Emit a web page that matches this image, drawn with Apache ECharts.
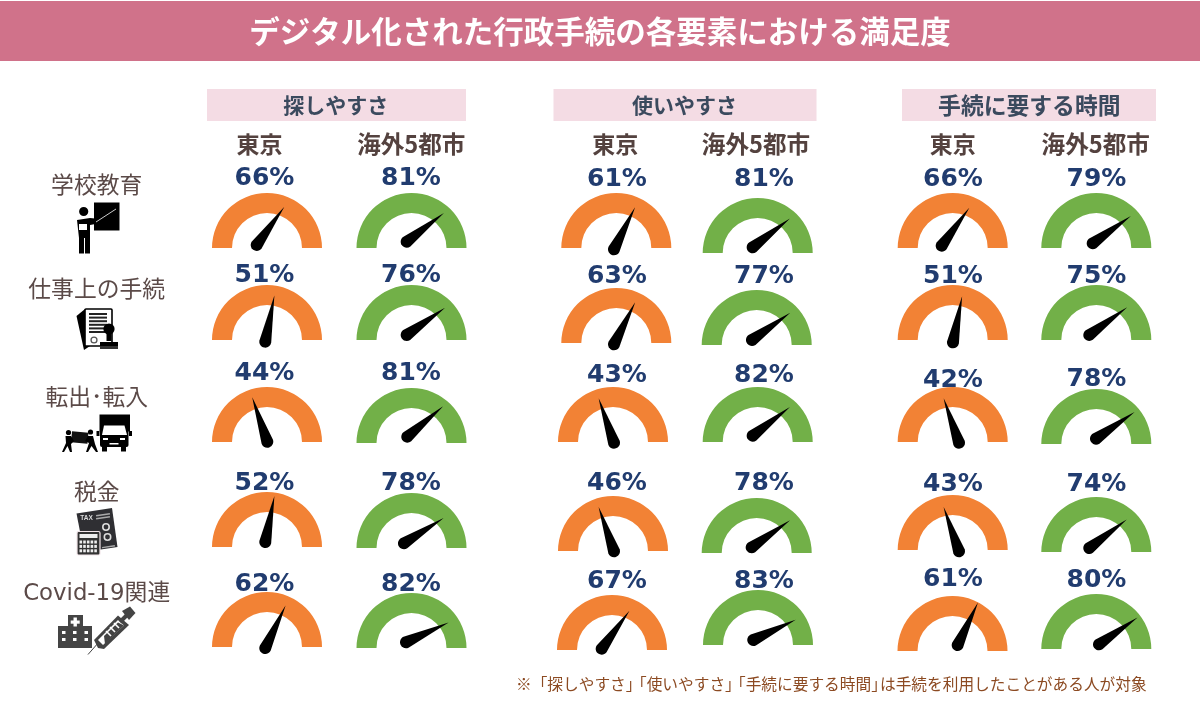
<!DOCTYPE html>
<html>
<head>
<meta charset="utf-8">
<title>デジタル化された行政手続の各要素における満足度</title>
<style>
  html, body { margin: 0; padding: 0; background: #fff; }
  #main { width: 1200px; height: 706px; }
</style>
<script src="https://cdn.jsdelivr.net/npm/echarts@6/dist/echarts.min.js"></script>
</head>
<body>
<div id="main"></div>
<script>
// 表示されているパーセント
var categories = ['学校教育', '仕事上の手続', '転出･転入', '税金', 'Covid-19関連'];
var measures = ['探しやすさ', '使いやすさ', '手続に要する時間'];
var cities = ['東京', '海外5都市'];

var findTokyo = [66, 51, 44, 52, 62];
var findOverseas = [81, 76, 81, 78, 82];
var useTokyo = [61, 63, 43, 46, 67];
var useOverseas = [81, 77, 82, 78, 83];
var timeTokyo = [66, 51, 42, 43, 61];
var timeOverseas = [79, 75, 78, 74, 80];

// 針の指している位置(目盛0-100で絵から読んだ値)
var findTokyoNeedle = [69.9, 56.2, 39.6, 56.2, 64.2];
var findOverseasNeedle = [79.1, 80.4, 77.6, 82, 86.2];
var useTokyoNeedle = [64.8, 64.9, 39.4, 39.4, 70.1];
var useOverseasNeedle = [79.1, 80.3, 79.1, 80.4, 85.8];
var timeTokyoNeedle = [70, 56.2, 39.4, 39.4, 64.2];
var timeOverseasNeedle = [80.2, 79.9, 80.7, 79.3, 80.6];

var shownValues = [findTokyo, findOverseas, useTokyo, useOverseas, timeTokyo, timeOverseas];
var needleValues = [findTokyoNeedle, findOverseasNeedle, useTokyoNeedle, useOverseasNeedle, timeTokyoNeedle, timeOverseasNeedle];

// レイアウト(メーターごとの中心、針の根元、ラベル)
var arcX = [
  [267, 267, 267, 267, 267],
  [411.5, 411.5, 411.5, 411.5, 411.5],
  [616.3, 616.3, 613, 613, 612],
  [757.7, 756.7, 757.7, 756.7, 758],
  [952.7, 952.7, 952.7, 952.7, 952.5],
  [1096.3, 1096.3, 1096.3, 1096.3, 1096.3]
];
var arcY = [
  [248, 340, 442, 547, 647],
  [248, 340, 443, 548, 648],
  [248, 343, 442, 551, 650],
  [253, 345, 442, 553, 645],
  [248, 340, 442, 550, 651],
  [248, 340, 444, 552, 649]
];
var pivotX = [
  [256.7, 265.3, 267.3, 265.3, 265.3],
  [406.7, 406.7, 407.3, 404, 406],
  [614, 614, 614, 614, 601.7],
  [752.7, 752, 752.7, 751.7, 753.3],
  [941.7, 953, 959, 959, 957.7],
  [1092.7, 1089.3, 1096, 1089.3, 1099]
];
var pivotY = [
  [245, 341.7, 441.7, 542, 648],
  [241.7, 335, 436.7, 543.3, 642.3],
  [249.3, 344.3, 442.7, 551.3, 648.7],
  [247.3, 340, 435.7, 547.3, 640],
  [245.7, 342.3, 442.7, 551.3, 645],
  [243.3, 335, 438.7, 548, 644.3]
];
var labelX = [264.5, 411, 617, 764, 953, 1096.5];
var labelY = [
  [178, 275, 373, 483, 584],
  [178, 275, 373, 483, 584],
  [179, 276.5, 375, 483, 581],
  [179, 276, 375, 483, 581],
  [179, 276, 380, 484, 579],
  [179, 276, 379, 484, 580]
];
var colColors = ['#F28235', '#72B048', '#F28235', '#72B048', '#F28235', '#72B048'];

var jp = '"Noto Sans CJK JP"';
var numFont = '"DejaVu Sans"';

// 丸い根元の半径
var needleBack = 6;
var needleIcon = 'path://M0 -47 L6 0 C6 3.3 3.3 6 0 6 C-3.3 6 -6 3.3 -6 0 Z';

var series = [];
for (var c = 0; c < 6; c++) {
  for (var r = 0; r < 5; r++) {
    var cx = arcX[c][r], cy = arcY[c][r];
    var a = (180 - needleValues[c][r] * 1.8) * Math.PI / 180;
    // offsetCenter は針と一緒に回転するので、根元のずれを針の向きの座標に直す
    var wx = pivotX[c][r] - cx, wy = pivotY[c][r] - cy;
    var localX = wx * Math.sin(a) + wy * Math.cos(a);
    var localY = -wx * Math.cos(a) + wy * Math.sin(a) + needleBack;
    series.push({
      type: 'gauge',
      center: [cx, cy],
      radius: 55,
      startAngle: 180,
      endAngle: 0,
      min: 0,
      max: 100,
      animation: false,
      silent: true,
      axisLine: { lineStyle: { width: 20, color: [[1, colColors[c]]] } },
      axisTick: { show: false },
      splitLine: { show: false },
      axisLabel: { show: false },
      anchor: { show: false },
      title: { show: false },
      pointer: {
        icon: needleIcon,
        length: 53,
        width: 12,
        offsetCenter: [localX, localY],
        itemStyle: { color: '#000' }
      },
      detail: {
        formatter: shownValues[c][r] + '%',
        offsetCenter: [labelX[c] - cx, labelY[c][r] - cy],
        fontFamily: numFont,
        fontSize: 25,
        fontWeight: 'bold',
        color: '#213C6F'
      },
      data: [{ value: needleValues[c][r] }]
    });
  }
}

// 図形用の小さなヘルパー
function box(x, y, w, h, fill, rot) {
  var el = { type: 'rect', shape: { x: x, y: y, width: w, height: h }, style: { fill: fill }, silent: true };
  if (rot) { el.originX = x + w / 2; el.originY = y + h / 2; el.rotation = rot; }
  return el;
}
function dot(x, y, rad, fill) {
  return { type: 'circle', shape: { cx: x, cy: y, r: rad }, style: { fill: fill }, silent: true };
}
function poly(pts, fill) {
  return { type: 'polygon', shape: { points: pts }, style: { fill: fill }, silent: true };
}
function seg(x1, y1, x2, y2, col, w) {
  return { type: 'line', shape: { x1: x1, y1: y1, x2: x2, y2: y2 }, style: { stroke: col, lineWidth: w }, silent: true };
}
function label(str, x, y, size, col, weight, align, font) {
  return {
    type: 'text', x: x, y: y, silent: true,
    style: { text: str, fill: col, fontSize: size, fontWeight: weight || 'normal', fontFamily: font || jp, textAlign: align || 'center', textVerticalAlign: 'middle' }
  };
}

var els = [];
// 見出しの帯
els.push(box(0, 1, 1200, 60, '#D0728A'));
els.push(label('デジタル化された行政手続の各要素における満足度', 600, 31, 30.5, '#fff', 'bold'));

var bandX = [207, 553.5, 902];
var bandW = [259, 263, 254];
var bandTextX = [335.7, 684.5, 1029.3];
var bandSize = [21, 21, 22.8];
var cityX = [259.5, 411.3, 615.3, 756, 952.8, 1095.7];
for (var m = 0; m < 3; m++) {
  els.push(box(bandX[m], 89, bandW[m], 32, '#F4DCE4'));
  els.push(label(measures[m], bandTextX[m], 105, bandSize[m], '#3B4A5E', 'bold'));
  els.push(label(cities[0], cityX[m * 2], 144.5, 23, '#54423F', 'bold'));
  els.push(label(cities[1], cityX[m * 2 + 1], 144.5, 23.6, '#54423F', 'bold'));
}

var catY = [187, 291, 399, 494, 594];
for (var i = 0; i < categories.length; i++) {
  els.push(label(categories[i], 96.7, catY[i], 22.8, '#5B4A48', 'normal', 'center', numFont + ', ' + jp));
}

// 注記はかぎ括弧の空きを詰めて並べる
var noteParts = ['※「探しやすさ」', '「使いやすさ」', '「手続に要する時間」', 'は手続を利用したことがある人が対象'];
var noteX = [516, 631, 730, 880];
for (var n = 0; n < noteParts.length; n++) {
  els.push(label(noteParts[n], noteX[n], 684, 15.7, '#8C4A22', 'normal', 'left'));
}

// 先生
els.push(box(94, 202.5, 25.5, 28, '#000'));
els.push(dot(83.7, 211.5, 4.6, '#000'));
els.push(poly([[77, 220], [90, 218], [100, 219], [113, 209.5], [114, 210.5], [101, 223], [90, 225], [90, 238], [79, 238]], '#000'));
els.push(seg(96, 222, 116, 209, '#fff', 0.8));
els.push(box(79, 236, 5, 17.5, '#000'));
els.push(box(85, 236, 5, 17.5, '#000'));
els.push(box(79, 224, 8, 6, '#fff'));

// 書類と印鑑
els.push(poly([[76.5, 316], [85, 309], [90, 346], [84, 350]], '#000'));
els.push({ type: 'rect', shape: { x: 85, y: 309, width: 27, height: 37, r: 1 }, style: { fill: '#fff', stroke: '#000', lineWidth: 1.6 }, silent: true });
for (var ln = 0; ln < 6; ln++) {
  els.push(box(89, 313 + ln * 3.6, 18, 2, '#222'));
}
els.push(dot(94, 340, 3.6, '#555'));
els.push(dot(94, 340, 2.3, '#fff'));
els.push(dot(109, 329, 5.6, '#000'));
els.push(box(106.5, 332, 5, 9, '#000'));
els.push(box(100, 342, 18, 4.5, '#000'));
els.push(box(100, 346, 18, 3, '#333'));

// 引っ越し
els.push(box(99.5, 414.5, 30.5, 17, '#000'));
els.push({ type: 'rect', shape: { x: 100, y: 425, width: 28.5, height: 22, r: 2 }, style: { fill: '#000' }, silent: true });
els.push(poly([[104, 425.5], [124.5, 425.5], [127, 435], [102, 435]], '#fff'));
els.push(box(96.5, 431, 3, 5, '#000'));
els.push(box(129, 431, 3, 5, '#000'));
els.push(box(103, 438, 5, 2, '#fff'));
els.push(box(120, 438, 5, 2, '#fff'));
els.push(box(109.5, 443, 9, 1.5, '#fff'));
els.push(box(102, 447, 5, 4.5, '#000'));
els.push(box(121, 447, 5, 4.5, '#000'));
els.push(box(71.5, 432, 16.5, 11, '#111', -0.1));
els.push(dot(68.5, 432.5, 2.6, '#000'));
els.push(poly([[65.5, 436], [71, 436], [74, 441], [71, 444], [72, 452], [70, 452], [67.5, 446], [64, 452], [62, 452], [66, 443]], '#000'));
els.push(dot(90.5, 432, 2.6, '#000'));
els.push(poly([[88, 436], [93, 436], [95, 444], [98, 452], [96, 452], [91.5, 446], [88, 452], [86, 452], [89, 443], [85, 441]], '#000'));

// 税金
els.push(poly([[76.5, 513.5], [112, 508], [117.5, 547], [84, 552]], '#2F2F33'));
els.push(label('TAX', 86.5, 518, 6.5, '#ddd', 'bold', 'center', '"Liberation Sans"'));
els.push(box(96, 514, 14, 1.6, '#aaa', 0.14));
els.push(box(96, 517, 14, 1.6, '#aaa', 0.14));
els.push({ type: 'circle', shape: { cx: 106, cy: 527, r: 3.2 }, style: { fill: 'none', stroke: '#ddd', lineWidth: 1.6 }, silent: true });
els.push({ type: 'circle', shape: { cx: 107.5, cy: 537, r: 3.2 }, style: { fill: 'none', stroke: '#ddd', lineWidth: 1.6 }, silent: true });
els.push(box(102, 546, 13, 1.4, '#aaa', 0.14));
els.push({ type: 'rect', shape: { x: 77, y: 531.5, width: 23, height: 23.5, r: 1.5 }, style: { fill: '#333', stroke: '#f2e6ea', lineWidth: 1.2 }, silent: true });
els.push(box(79.5, 534, 18, 4, '#eee'));
for (var gy = 0; gy < 3; gy++) {
  for (var gx = 0; gx < 5; gx++) {
    els.push(box(79.5 + gx * 3.7, 540.5 + gy * 4.4, 2.6, 3, '#eee'));
  }
}

// 病院と注射器
var dk = '#444';
els.push(poly([[58, 626], [68, 626], [68, 615], [83, 615], [83, 626], [92, 626], [92, 648], [58, 648]], dk));
els.push(box(73.5, 617.5, 3.4, 9, '#fff'));
els.push(box(70.7, 620.5, 9, 3.2, '#fff'));
for (var wy2 = 0; wy2 < 2; wy2++) {
  els.push(box(62, 631 + wy2 * 7, 3.5, 3, '#fff'));
  els.push(box(73, 631 + wy2 * 7, 3.5, 3, '#fff'));
  els.push(box(84.5, 631 + wy2 * 7, 3.5, 3, '#fff'));
}
els.push(seg(88, 654.5, 99, 642, dk, 1));
els.push(poly([[94, 640], [118, 615.5], [129, 625], [104, 649], [98, 648]], dk));
els.push(poly([[98, 640], [118, 620], [124, 625.5], [103, 645]], '#fff'));
els.push(poly([[104, 636], [118, 622.5], [124, 625.5], [105, 644]], dk));
els.push(seg(106, 631, 111, 636, '#fff', 1.6));
els.push(seg(110, 627, 115, 632, '#fff', 1.6));
els.push(seg(114, 623, 119, 628, '#fff', 1.6));
els.push(seg(120, 622, 127, 615, dk, 4));
els.push(poly([[122, 611], [130, 606.5], [135.5, 613], [129, 620]], dk));

var option = {
  animation: false,
  backgroundColor: '#fff',
  graphic: { elements: els },
  series: series
};

var myChart = echarts.init(document.getElementById('main'));
myChart.setOption(option);
</script>
</body>
</html>
